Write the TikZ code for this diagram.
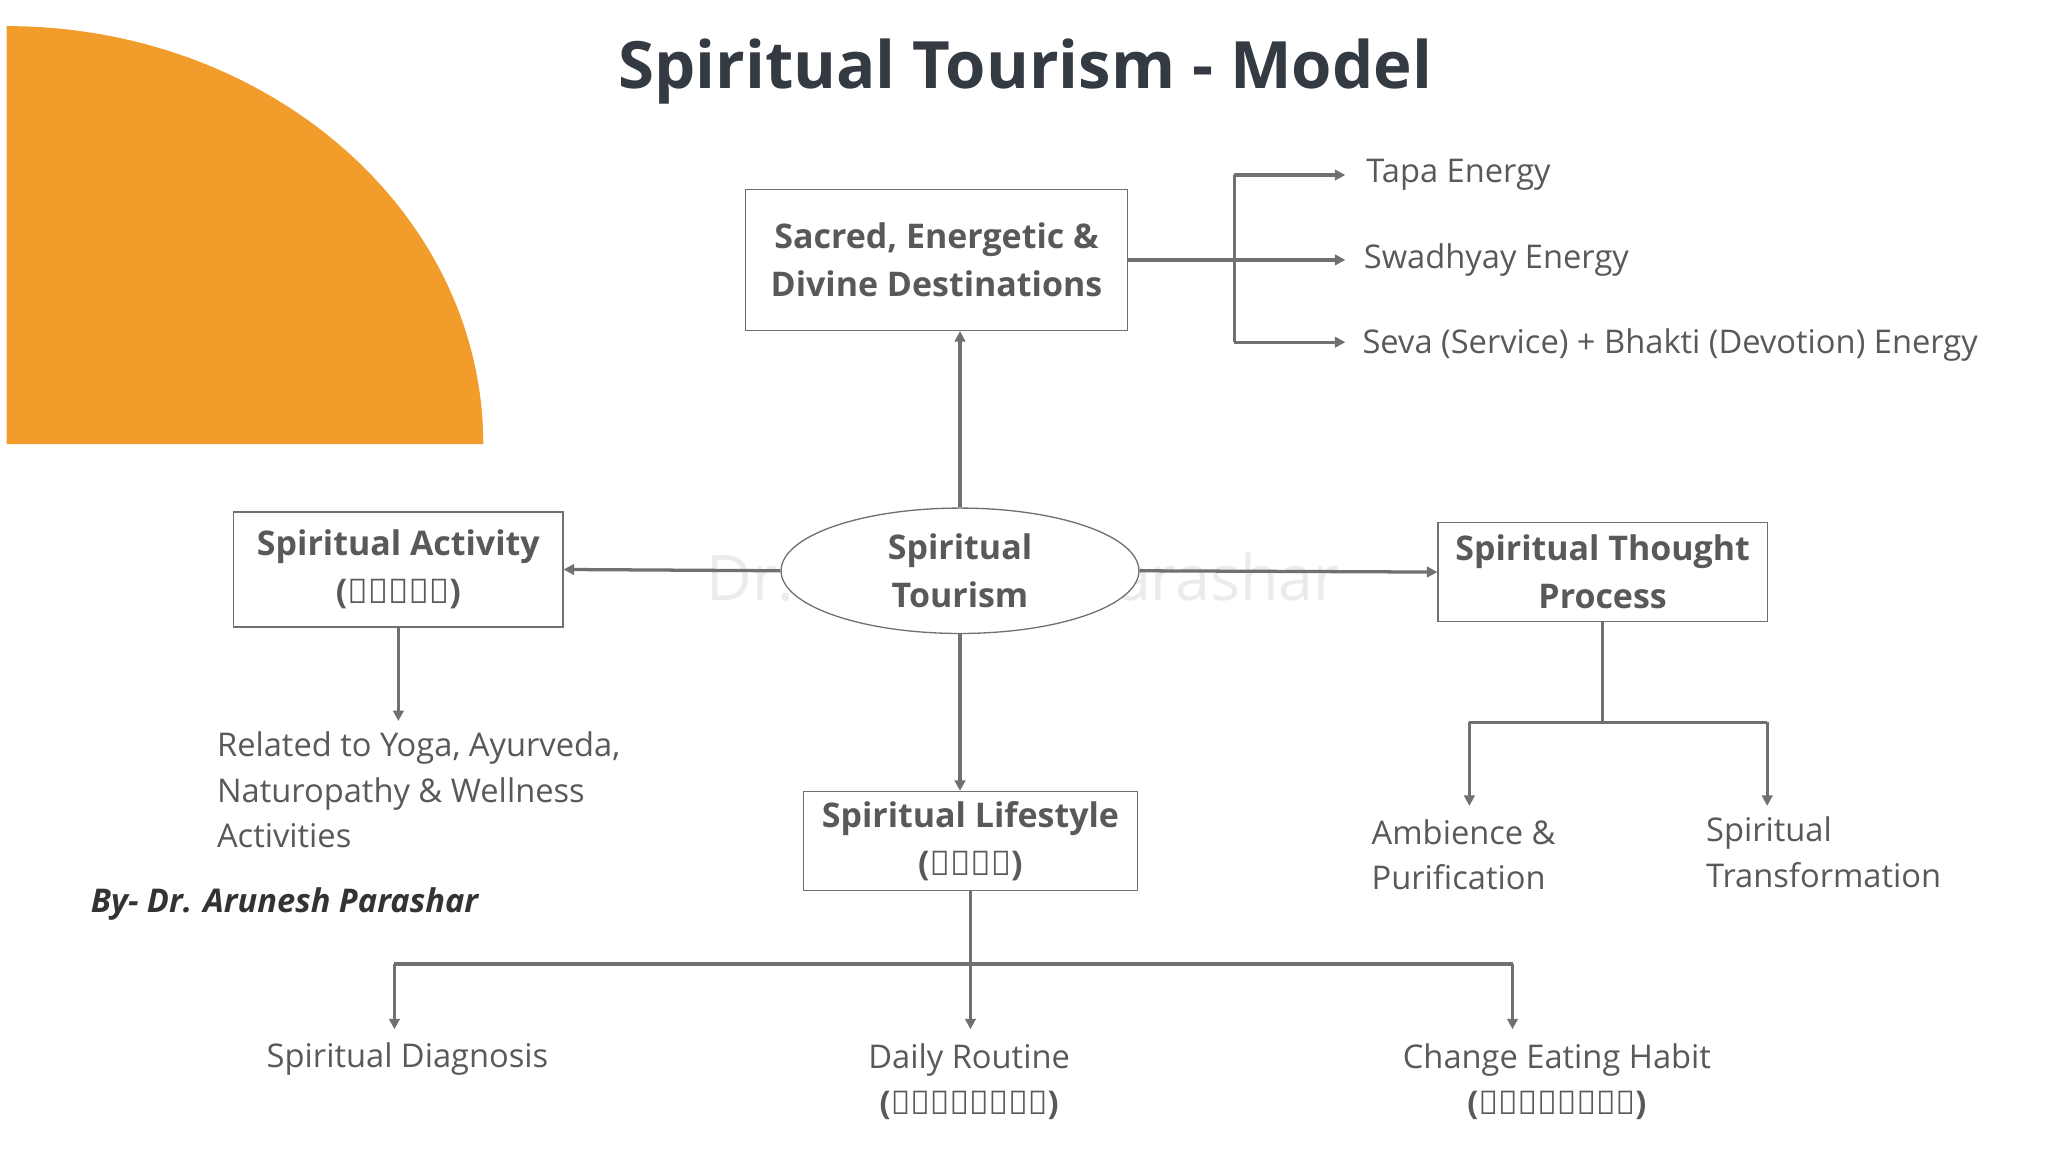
\documentclass[tikz,border=0pt]{standalone}
\usepackage{fontspec}
\setmainfont{Open Sans}
\usetikzlibrary{arrows.meta,shapes.geometric}
\definecolor{txt}{HTML}{595959}
\definecolor{ln}{HTML}{707070}
\definecolor{org}{HTML}{F29C2B}
\definecolor{ttl}{HTML}{343A42}
\begin{document}
\begin{tikzpicture}[x=1pt,y=-1pt,
  box/.style={draw=ln,line width=1pt,fill=white,text=txt,font=\fontsize{26}{37}\selectfont\bfseries,align=center,inner sep=0pt},
  lbl/.style={text=txt,font=\fontsize{25}{35}\selectfont,inner sep=0pt},
  con/.style={draw=ln,line width=2.5pt},
  arr/.style={con,-{Triangle[length=8pt,width=8pt]}}]
\useasboundingbox (0,0) rectangle (1568,880);
\fill[white] (0,0) rectangle (1568,880);
\fill[org] (5,340) -- (5,20) arc[start angle=-90,end angle=0,x radius=365,y radius=320] -- cycle;
\node[text=ttl,font=\fontsize{50}{60}\selectfont\bfseries] (title) at (785,55) {Spiritual Tourism - Model};
\node[text=black!8,font=\fontsize{48}{50}\selectfont] (wm) at (783,442) {Dr. Arunesh Parashar};
\node[box,minimum width=292pt,minimum height=108pt] (sac) at (717,199) {Sacred, Energetic \&\\Divine Destinations};
\node[box,ellipse,minimum width=274pt,minimum height=96pt] (st) at (735,437) {Spiritual\\Tourism};
\node[box,minimum width=252pt,minimum height=88pt] (act) at (305,436) {Spiritual Activity\\(साधना)};
\node[box,minimum width=252pt,minimum height=76pt] (tho) at (1227,438) {Spiritual Thought\\Process};
\node[box,minimum width=256pt,minimum height=76pt] (life) at (743,644) {Spiritual Lifestyle\\(संयम)};
\node[lbl,anchor=west] (t1) at (1046,134) {Tapa Energy};
\node[lbl,anchor=west] (t2) at (1044,199) {Swadhyay Energy};
\node[lbl,anchor=west] (t3) at (1043,264) {Seva (Service) + Bhakti (Devotion) Energy};
\node[lbl,anchor=north west,align=left] (rel) at (166,560) {Related to Yoga, Ayurveda,\\Naturopathy \& Wellness\\Activities};
\node[lbl,anchor=north west,align=left] (amb) at (1050,627) {Ambience \&\\Purification};
\node[lbl,anchor=north west,align=left] (tra) at (1306,625) {Spiritual\\Transformation};
\node[lbl] (d1) at (312,811) {Spiritual Diagnosis};
\node[lbl,align=center] (d2) at (742,828) {Daily Routine\\\textbf{(दिनचर्या)}};
\node[lbl,align=center] (d3) at (1192,828) {Change Eating Habit\\\textbf{(ऋतुचर्या)}};
\node[text=black!80,font=\fontsize{25}{30}\selectfont\bfseries\itshape,anchor=west] (by) at (66,692) {By- Dr. Arunesh Parashar};
% connectors
\coordinate (j1) at (945,199);
\draw[con] (sac.east) -- (j1);
\draw[con] (945,134) -- (945,262);
\draw[arr] (945,134) -- (1030,134);
\draw[arr] (j1) -- (1030,199);
\draw[arr] (945,262) -- (1030,262);
\draw[arr] (st.north) -- (sac.south -| st.north);
\draw[arr] (st.west) -- (act.east);
\draw[arr] (st.east) -- (tho.west);
\draw[arr] (act.south) -- (305,552);
\draw[arr] (st.south) -- (life.north -| st.south);
\coordinate (j2) at (743,738);
\draw[con] (life.south) -- (j2);
\draw[con] (302,738) -- (1158,738);
\draw[arr] (302,738) -- (302,788);
\draw[arr] (j2) -- (743,788);
\draw[arr] (1158,738) -- (1158,788);
\coordinate (j3) at (1227,553);
\draw[con] (tho.south) -- (j3);
\draw[con] (1125,553) -- (1353,553);
\draw[arr] (1125,553) -- (1125,617);
\draw[arr] (1353,553) -- (1353,617);
\end{tikzpicture}
\end{document}
